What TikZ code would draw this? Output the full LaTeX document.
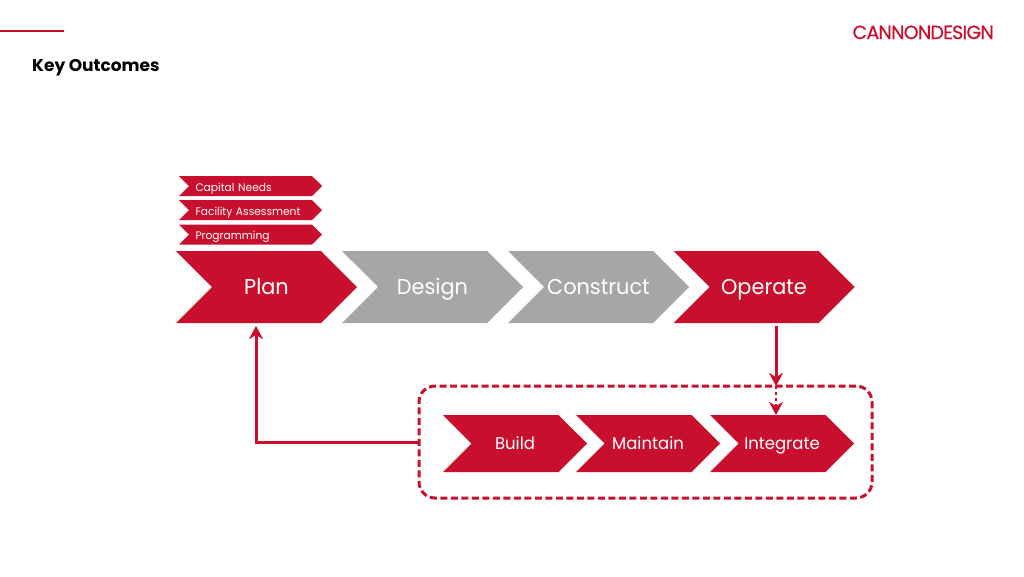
\documentclass[tikz,border=0pt]{standalone}
\usepackage{fontspec}
\setmainfont{Poppins}
\newfontfamily\logofont[LetterSpace=-4,FakeBold=0.6]{Poppins}
\newfontfamily\labelfont[FakeStretch=0.97]{Poppins}
\usetikzlibrary{shapes.symbols,arrows.meta}
\definecolor{brandred}{HTML}{C8102E}
\definecolor{stepgrey}{HTML}{A6A6A6}
\newcommand{\fs}[1]{\fontsize{#1}{#1}\selectfont}
\tikzset{
  x=1pt,y=-1pt,
  chevron/.style={shape=signal,signal to=east,signal from=west,signal pointer angle=90,
    inner sep=0pt,outer sep=0pt,text=white,draw=none},
  bigred/.style={chevron,fill=brandred,minimum width=181pt,minimum height=72pt,font=\fs{21.5}\labelfont,text height=19.3pt,text depth=4.7pt},
  biggrey/.style={chevron,fill=stepgrey,minimum width=181pt,minimum height=72pt,font=\fs{21.5}\labelfont,text height=19.3pt,text depth=4.7pt},
  lowred/.style={chevron,fill=brandred,minimum width=144pt,minimum height=57pt,font=\fs{17}\labelfont,text height=16.5pt,text depth=3.7pt},
  tagred/.style={chevron,fill=brandred,minimum width=143pt,minimum height=20pt,font=\fs{11}\labelfont,
    text width=110pt,align=left,text height=12.5pt,text depth=2.4pt},
  flow/.style={draw=brandred,line width=3pt,-{Stealth[length=13pt,width=14pt,inset=4pt]}},
  groupbox/.style={draw=brandred,line width=3pt,dash pattern=on 7pt off 3.5pt,rounded corners=16pt,
    minimum width=453pt,minimum height=112pt,inner sep=0pt,outer sep=0pt}
}
\begin{document}
\begin{tikzpicture}
\useasboundingbox (0,0) rectangle (1024,576);
\fill[white] (0,0) rectangle (1024,576);
\coordinate (rulestart) at (0,31);
\coordinate (ruleend) at (64,31);
\draw[brandred,line width=2.6pt] (rulestart) -- (ruleend);
\node[anchor=base west,inner sep=0pt,font=\fs{17}\bfseries] (title) at (32,71) {Key Outcomes};
\node[anchor=base east,inner sep=0pt,text=brandred,font=\fs{19}\logofont] (logo) at (994,39) {CANNONDESIGN};

\node[tagred] (capital) at (250.5,186) {\mbox{Capital Needs}};
\node[tagred] (facility) at (250.5,210) {\mbox{Facility Assessment}};
\node[tagred] (programming) at (250.5,234.5) {\mbox{Programming}};

\node[bigred] (plan) at (266.5,287) {Plan};
\node[biggrey] (design) at (432.5,287) {Design};
\node[biggrey] (construct) at (598.5,287) {Construct};
\node[bigred] (operate) at (764,287) {Operate};

\node[groupbox] (group) at (645.5,442) {};
\node[lowred] (build) at (515,443.5) {Build};
\node[lowred] (maintain) at (648,443.5) {Maintain};
\node[lowred] (integrate) at (782,443.5) {Integrate};

\coordinate (drop) at (776,400);
\coordinate (back) at (256,442);
\draw[flow,shorten <=3pt] (operate.south -| drop) -- (group.north -| drop);
\draw[flow,line width=2.6pt,dash pattern=on 3pt off 3pt] (group.north -| drop) -- (integrate.north -| drop);
\draw[flow,shorten >=3pt] (group.west) -- (back) -- (plan.south -| back);
\end{tikzpicture}
\end{document}
